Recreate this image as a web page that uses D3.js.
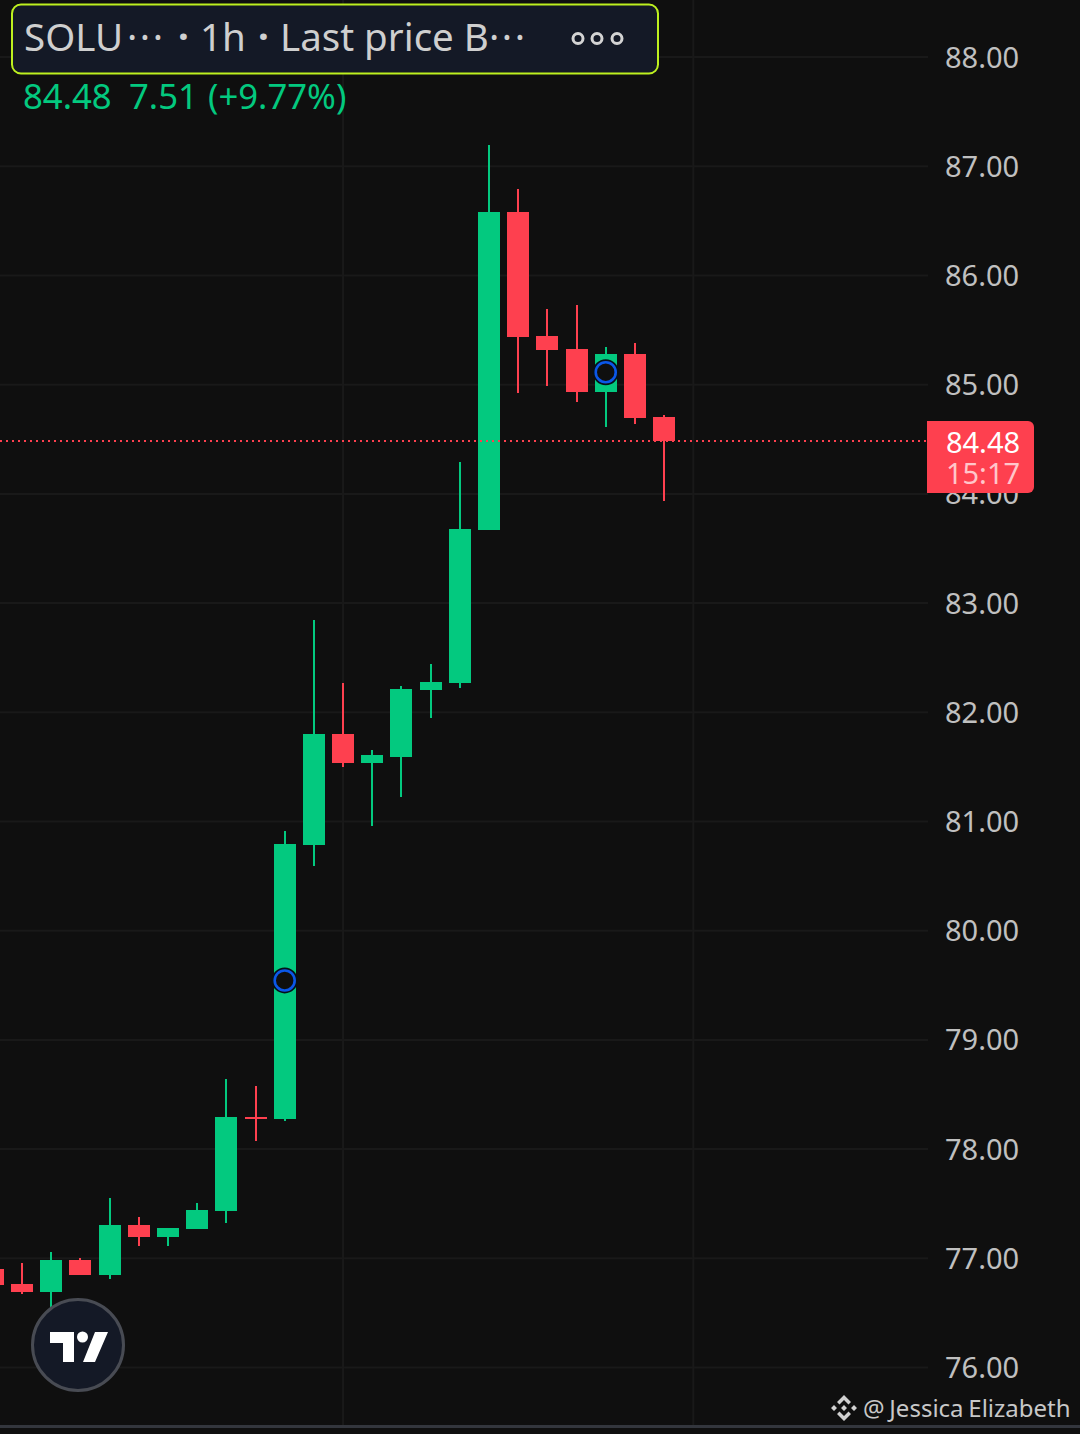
<!DOCTYPE html>
<html><head><meta charset="utf-8">
<script src="https://cdn.jsdelivr.net/npm/d3@7"></script>
<style>
html,body{margin:0;padding:0;background:#0f0f0f;}
svg{display:block;}
text{font-family:"Noto Sans",sans-serif;}
</style></head><body>
<svg id="c" width="1080" height="1434"></svg>
<script>
const candleIndex = d3.range(24);
const opens  = [76.90,76.76,76.69,76.98,76.84,77.30,77.19,77.26,77.43,78.29,78.27,80.78,81.80,81.53,81.59,82.20,82.26,83.665,86.58,85.44,85.32,84.93,85.28,84.70];
const closes = [76.75,76.69,76.98,76.84,77.30,77.19,77.27,77.44,78.29,78.28,80.79,81.80,81.53,81.60,82.21,82.27,83.67,86.58,85.43,85.31,84.93,85.28,84.69,84.48];
const highs  = [76.90,76.95,77.05,77.00,77.55,77.37,77.27,77.50,78.64,78.57,80.91,82.84,82.26,81.65,82.24,82.44,84.29,87.19,86.79,85.69,85.725,85.34,85.38,84.72];
const lows   = [76.75,76.67,76.50,76.84,76.81,77.11,77.11,77.26,77.32,78.07,78.25,80.59,81.49,80.95,81.22,81.94,82.22,83.665,84.92,84.98,84.84,84.61,84.64,83.93];
const priceTicks = [76,77,78,79,80,81,82,83,84,85,86,87,88];
const markerIndex = [10,21];
const markerPrices = [79.54,85.11];
const verticalGridIndex = [12,24];
const lastPrice = 84.48;
const titleParts = ["SOLU","\u00B7\u00B7\u00B7","\u00B7","1h","\u00B7","Last price B","\u00B7\u00B7\u00B7"];
const changeText = ["84.48","7.51","(+9.77%)"];
const countdown = "15:17";
const watermark = "@ Jessica Elizabeth";

const UP="#03c97f", DOWN="#fe404f", BG="#0f0f0f", GRID="#191919", AXIS="#c0c0c0";
const svg=d3.select("#c");
const x=d3.scaleLinear().domain([0,23]).range([-7.15,664.1]);
const y=d3.scaleLinear().domain([76,88]).range([1367,56.6]);
const plotRight=928;
const rx=i=>Math.round(x(i)), ry=p=>Math.round(y(p));

svg.append("rect").attr("width",1080).attr("height",1434).attr("fill",BG);

// grid: horizontal via axis
const gridAxis=d3.axisLeft(y).tickValues(priceTicks).tickSize(plotRight).tickFormat("");
const gg=svg.append("g").attr("transform",`translate(${plotRight},0)`).call(gridAxis);
gg.select(".domain").remove();
gg.selectAll("line").attr("stroke",GRID).attr("stroke-width",2);

svg.append("g").selectAll("line").data(verticalGridIndex).join("line")
  .attr("x1",d=>x(d)).attr("x2",d=>x(d)).attr("y1",0).attr("y2",1426)
  .attr("stroke",GRID).attr("stroke-width",2);

// price axis
const ax=svg.append("g").attr("transform",`translate(${plotRight},0)`)
  .call(d3.axisRight(y).tickValues(priceTicks).tickSize(0).tickPadding(17).tickFormat(d3.format(".2f")));
ax.select(".domain").remove();
ax.selectAll("text").attr("fill",AXIS).attr("font-size",29).attr("dy","0.36em").style("font-family",'"Noto Sans",sans-serif');

// candles
const bw=22;
const color=i=>closes[i]>=opens[i]?UP:DOWN;
const cg=svg.append("g").attr("shape-rendering","crispEdges");
cg.selectAll("line").data(candleIndex).join("line")
  .attr("x1",rx).attr("x2",rx)
  .attr("y1",i=>ry(highs[i])).attr("y2",i=>ry(lows[i]))
  .attr("stroke",color).attr("stroke-width",2);
cg.selectAll("rect").data(candleIndex).join("rect")
  .attr("x",i=>rx(i)-bw/2).attr("width",bw)
  .attr("y",i=>ry(Math.max(opens[i],closes[i])))
  .attr("height",i=>Math.max(2,Math.abs(ry(opens[i])-ry(closes[i]))))
  .attr("fill",color);

// last price line, over the candles
svg.append("line").attr("x1",0).attr("x2",plotRight).attr("y1",ry(lastPrice)).attr("y2",ry(lastPrice))
  .attr("stroke",DOWN).attr("stroke-width",2).attr("stroke-dasharray","2 4").attr("shape-rendering","crispEdges");

// markers
const mg=svg.append("g");
mg.selectAll("circle.h").data(markerIndex).join("circle").attr("class","h")
  .attr("cx",d=>x(d)).attr("cy",(d,i)=>y(markerPrices[i])).attr("r",11)
  .attr("fill",BG).attr("stroke","#061018").attr("stroke-width",4);
mg.selectAll("circle.m").data(markerIndex).join("circle").attr("class","m")
  .attr("cx",d=>x(d)).attr("cy",(d,i)=>y(markerPrices[i])).attr("r",10)
  .attr("fill","none").attr("stroke","#0b57e8").attr("stroke-width",2.6);

// price badge
svg.append("path").attr("fill",DOWN).attr("d","M927,421H1028a6,6 0 0 1 6,6V487a6,6 0 0 1 -6,6H927Z");
svg.append("text").attr("x",983).attr("y",453).attr("text-anchor","middle").attr("fill","#fff")
  .attr("font-size",29).text(d3.format(".2f")(lastPrice));
svg.append("text").attr("x",983).attr("y",484).attr("text-anchor","middle").attr("fill","#ffc6ca")
  .attr("font-size",29).text(countdown);

// title box
svg.append("rect").attr("x",12).attr("y",4.5).attr("width",646).attr("height",69).attr("rx",9)
  .attr("fill","#141926").attr("stroke","#bdf01f").attr("stroke-width",2);
const titleX=[24,127,178,200,258,280,489];
svg.append("g").selectAll("text").data(titleParts).join("text")
  .attr("x",(d,i)=>titleX[i]).attr("y",51).attr("fill","#cfcfcf").attr("font-size",38.5)
  .attr("letter-spacing",d=>d.length===3?2.5:0).attr("font-weight",d=>d==="\u00B7"?700:400).text(d=>d);
svg.append("g").selectAll("circle").data([578,597,617]).join("circle")
  .attr("cx",d=>d).attr("cy",38.5).attr("r",5).attr("fill","none").attr("stroke","#d4d4d4").attr("stroke-width",3);

// change
svg.append("g").selectAll("text").data(changeText).join("text")
  .attr("x",(d,i)=>[23,129,208][i]).attr("y",108.5).attr("fill",UP).attr("font-size",34.7).text(d=>d);

// logo
const lg=svg.append("g");
lg.append("circle").attr("cx",78).attr("cy",1345).attr("r",45.5).attr("fill","#141926").attr("stroke","#484b53").attr("stroke-width",3);
lg.append("path").attr("fill","#fff").attr("d","M50,1332H74V1362H63V1343H50Z M95,1332H108L95,1362H83Z");
lg.append("circle").attr("cx",82.5).attr("cy",1337).attr("r",5.5).attr("fill","#fff");

// bottom line
svg.append("rect").attr("x",0).attr("y",1425).attr("width",1080).attr("height",3).attr("fill","#33363d");

// watermark
const w=svg.append("g").attr("transform","translate(844,1408)").attr("fill","#d0d0d0");
w.append("path").attr("d","M0,-13L7,-6L4.5,-3.5L0,-8L-4.5,-3.5L-7,-6Z M0,13L7,6L4.5,3.5L0,8L-4.5,3.5L-7,6Z M-10,-3L-7,0L-10,3L-13,0Z M10,-3L13,0L10,3L7,0Z M0,-3L3,0L0,3L-3,0Z");
svg.append("text").attr("x",863).attr("y",1417).attr("fill","#c8c8c8").attr("font-size",24).attr("word-spacing",-1.5).text(watermark);
</script></body></html>
